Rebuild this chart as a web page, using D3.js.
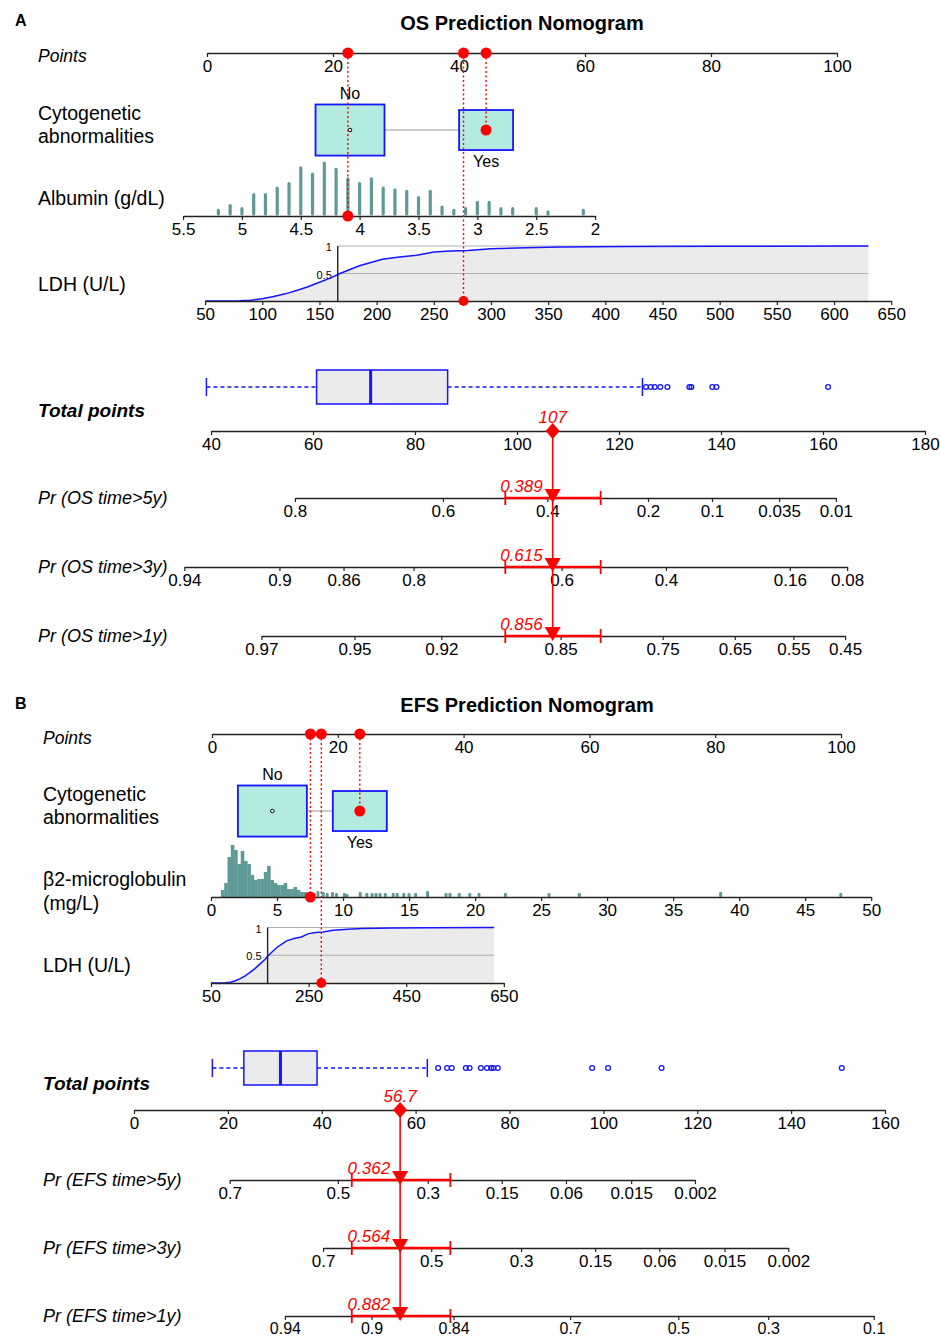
<!DOCTYPE html>
<html>
<head>
<meta charset="utf-8">
<script src="https://cdnjs.cloudflare.com/ajax/libs/d3/7.8.5/d3.min.js"></script>
<style>
body { margin: 0; background: #fff; }
</style>
</head>
<body>
<div id="chart"></div>
<script>
//----------------------------- DATA -------------------------------//
// shared
const ptsTicks = [0, 20, 40, 60, 80, 100];
const cytoLevels = ["No", "Yes"];
const cytoFreq = [0.62, 0.38];
const ldhEcdfX = [50, 80, 90, 100, 110, 120, 130, 140, 150, 160, 167, 175, 185, 195, 205, 220, 235, 250, 265, 280, 300, 330, 360, 420, 500, 630];
const ldhEcdfY = [0, 0.005, 0.015, 0.04, 0.08, 0.13, 0.19, 0.26, 0.34, 0.42, 0.49, 0.56, 0.64, 0.70, 0.76, 0.80, 0.83, 0.89, 0.91, 0.92, 0.95, 0.97, 0.98, 0.99, 0.995, 1.0];
const ldhMedian = 166;

// panel A : OS
const cytoPtsA = [22.7, 44.3];
const albTicks = [5.5, 5, 4.5, 4, 3.5, 3, 2.5, 2];
const albPtsEnds = [-3.8, 61.6];
const albVals = [5.2, 5.1, 5.0, 4.9, 4.8, 4.7, 4.6, 4.5, 4.4, 4.3, 4.2, 4.1, 4.0, 3.9, 3.8, 3.7, 3.6, 3.5, 3.4, 3.3, 3.2, 3.1, 3.0, 2.9, 2.8, 2.7, 2.5, 2.4, 2.1];
const albCounts = [3, 6, 4, 13, 13, 17, 20, 30, 26, 33, 29, 23, 20, 23, 17, 16, 15, 11, 15, 5, 3, 4, 8, 8, 4, 4, 4, 2, 3];
const ldhTicksA = [50, 100, 150, 200, 250, 300, 350, 400, 450, 500, 550, 600, 650];
const ldhPtsEndsA = [-0.3, 108.6];
const totTicksA = [40, 60, 80, 100, 120, 140, 160, 180];
const totBoxA = [39.1, 60.7, 71.3, 86.4, 124.6];
const totOutA = [125.3, 126.2, 127.0, 128.1, 129.5, 133.8, 134.2, 138.3, 139.1, 161.0];
const prNamesA = ["Pr (OS time>5y)", "Pr (OS time>3y)", "Pr (OS time>1y)"];
const prTicksA5 = [0.8, 0.6, 0.4, 0.2, 0.1, 0.035, 0.01];
const prTicksA3 = [0.94, 0.9, 0.86, 0.8, 0.6, 0.4, 0.16, 0.08];
const prTicksA1 = [0.97, 0.95, 0.92, 0.85, 0.75, 0.65, 0.55, 0.45];
const prValA = [0.389, 0.615, 0.856];
const totalA = 107;
const ciA = [97.7, 116.4];
const betaA = 0.02854;
const obsCytoA = "Yes", obsAlbA = 4.1, obsLdhA = 276;

// panel B : EFS
const cytoPtsB = [9.6, 23.5];
const b2Ticks = [0, 5, 10, 15, 20, 25, 30, 35, 40, 45, 50];
const b2PtsEnds = [-0.16, 104.8];
const b2Bins = [0.75, 1.0, 1.25, 1.5, 1.75, 2.0, 2.25, 2.5, 2.75, 3.0, 3.25, 3.5, 3.75, 4.0, 4.25, 4.5, 4.75, 5.0, 5.25, 5.5, 5.75, 6.0, 6.25, 6.5, 6.75, 7.0, 7.25];
const b2BinCounts = [7, 14, 40, 52, 47, 33, 46, 36, 33, 22, 17, 18, 18, 25, 31, 17, 14, 12, 12, 14, 8, 8, 10, 7, 5, 5, 4];
const b2Rare = [7.8, 8.1, 8.5, 8.8, 9.2, 9.5, 10.1, 10.3, 11.3, 11.8, 12.2, 12.5, 12.8, 13.2, 13.8, 14.1, 14.6, 15.0, 15.5, 16.4, 17.8, 18.1, 18.8, 19.6, 20.3, 22.3, 25.6, 27.9, 38.6, 47.7];
const b2RareCounts = [4, 6, 5, 4, 5, 4, 4, 3, 5, 4, 4, 4, 4, 4, 4, 4, 4, 4, 4, 6, 4, 4, 4, 4, 4, 4, 4, 4, 5, 4];
const ldhTicksB = [50, 250, 450, 650];
const ldhPtsEndsB = [-0.16, 46.4];
const totTicksB = [0, 20, 40, 60, 80, 100, 120, 140, 160];
const totBoxB = [16.7, 23.4, 31.2, 39.0, 62.5];
const totOutB = [64.8, 66.7, 67.7, 70.7, 71.5, 73.9, 75.2, 76.1, 76.6, 77.5, 97.6, 101.0, 112.4, 150.8];
const prNamesB = ["Pr (EFS time>5y)", "Pr (EFS time>3y)", "Pr (EFS time>1y)"];
const prTicksB5 = [0.7, 0.5, 0.3, 0.15, 0.06, 0.015, 0.002];
const prTicksB3 = [0.7, 0.5, 0.3, 0.15, 0.06, 0.015, 0.002];
const prTicksB1 = [0.94, 0.9, 0.84, 0.7, 0.5, 0.3, 0.1];
const prValB = [0.362, 0.564, 0.882];
const totalB = 56.7;
const ciB = [46.4, 67.4];
const betaB = 0.02883;
const obsCytoB = "Yes", obsB2 = 7.53, obsLdhB = 276;

//--------------------------- SETUP --------------------------------//
const FONT = '"Liberation Sans", Arial, Helvetica, sans-serif';
const RED = "#ff0000", BLUE = "#1515ff", TEAL = "#5f9a96", AQUA = "#b3ebe0", LIGHT = "#ebebeb";

const svg = d3.select("#chart")
    .append("svg")
    .attr("width", 941)
    .attr("height", 1339)
    .style("display", "block");

const gMain = svg.append("g");
const gGuide = svg.append("g");  // red guide lines over the marks
const gTop = svg.append("g");    // red markers on top

function txt(x, y, s, size, opt) {
    opt = opt || {};
    return gMain.append("text")
        .attr("x", x).attr("y", y)
        .attr("font-family", FONT)
        .attr("font-size", size)
        .attr("font-style", opt.italic ? "italic" : null)
        .attr("font-weight", opt.bold ? "bold" : null)
        .attr("text-anchor", opt.anchor || "start")
        .attr("dominant-baseline", "central")
        .attr("fill", opt.fill || "#000")
        .text(s);
}

function axis(scale, ticks, y, fmt, size) {
    const g = gMain.append("g")
        .attr("transform", "translate(0," + y + ")")
        .call(d3.axisBottom(scale)
            .tickValues(ticks)
            .tickSize(4)
            .tickSizeOuter(0)
            .tickPadding(3)
            .tickFormat(fmt || (d => d)));
    g.attr("font-size", size || 17).attr("font-family", FONT);
    g.select(".domain").attr("stroke", "#222").attr("stroke-width", 1.5);
    g.selectAll(".tick line").attr("stroke", "#222").attr("stroke-width", 1.2);
    g.selectAll(".tick text").attr("fill", "#000");
    return g;
}

function varScale(xs, ticks, ptsEnds) {
    return d3.scaleLinear()
        .domain([ticks[0], ticks[ticks.length - 1]])
        .range(ptsEnds.map(xs));
}

function redDot(x, y, r) {
    gTop.append("circle").attr("cx", x).attr("cy", y).attr("r", r || 5.5).attr("fill", RED);
}

function dotted(x, y1, y2) {
    gGuide.append("line")
        .attr("x1", x).attr("x2", x).attr("y1", y1).attr("y2", y2)
        .attr("stroke", RED).attr("stroke-width", 1.4)
        .attr("stroke-dasharray", "2,2.5");
}

//--------------------------- ROWS ---------------------------------//
function cytoRow(xs, pts, y, obs) {
    const cx = pts.map(xs);
    gMain.append("line")
        .attr("x1", cx[0]).attr("x2", cx[1]).attr("y1", y).attr("y2", y)
        .attr("stroke", "#bbb").attr("stroke-width", 1.5);
    gMain.append("g").selectAll("rect")
        .data(cytoLevels)
        .join("rect")
        .attr("x", (d, i) => cx[i] - 43.8 * Math.sqrt(cytoFreq[i]))
        .attr("y", (d, i) => y - 32.4 * Math.sqrt(cytoFreq[i]))
        .attr("width", (d, i) => 87.6 * Math.sqrt(cytoFreq[i]))
        .attr("height", (d, i) => 64.9 * Math.sqrt(cytoFreq[i]))
        .attr("fill", AQUA)
        .attr("stroke", BLUE)
        .attr("stroke-width", 1.8);
    cytoLevels.forEach((lv, i) => {
        const half = 32.4 * Math.sqrt(cytoFreq[i]);
        const ly = i === 0 ? y - half - 11 : y + half + 12;
        txt(cx[i], ly, lv, 16, {anchor: "middle"});
        if (lv !== obs) {
            gMain.append("circle").attr("cx", cx[i]).attr("cy", y).attr("r", 1.8)
                .attr("fill", "#fff").attr("stroke", "#000").attr("stroke-width", 1);
        }
    });
    const k = cytoLevels.indexOf(obs);
    redDot(cx[k], y, 5.5);
    return cx[k];
}

function ecdfRow(xl, y, h) {
    const yl = d3.scaleLinear().domain([0, 1]).range([y, y - h]);
    const data = d3.zip(ldhEcdfX, ldhEcdfY);
    const last = ldhEcdfX[ldhEcdfX.length - 1];
    gMain.append("path")
        .datum(data)
        .attr("fill", LIGHT)
        .attr("d", d3.area().x(d => xl(d[0])).y0(y).y1(d => yl(d[1])));
    [0.5, 1].forEach(v => {
        gMain.append("line")
            .attr("x1", xl(ldhMedian)).attr("x2", xl(last))
            .attr("y1", yl(v)).attr("y2", yl(v))
            .attr("stroke", "#b0b0b0").attr("stroke-width", 1.2);
        txt(xl(ldhMedian) - 6, yl(v) + 1, v, 11, {anchor: "end"});
    });
    gMain.append("path")
        .datum(data)
        .attr("fill", "none")
        .attr("stroke", BLUE)
        .attr("stroke-width", 1.5)
        .attr("d", d3.line().x(d => xl(d[0])).y(d => yl(d[1])));
    gMain.append("line")
        .attr("x1", xl(ldhMedian)).attr("x2", xl(ldhMedian))
        .attr("y1", y).attr("y2", yl(1))
        .attr("stroke", "#222").attr("stroke-width", 1.4);
}

function totalRow(xt, ticks, box, outs, yBox, yAxis, total) {
    const g = gMain.append("g");
    // whiskers
    [[box[0], box[1]], [box[3], box[4]]].forEach(w => {
        g.append("line")
            .attr("x1", xt(w[0])).attr("x2", xt(w[1])).attr("y1", yBox).attr("y2", yBox)
            .attr("stroke", BLUE).attr("stroke-width", 1.5).attr("stroke-dasharray", "4,3");
    });
    [box[0], box[4]].forEach(v => {
        g.append("line")
            .attr("x1", xt(v)).attr("x2", xt(v)).attr("y1", yBox - 9).attr("y2", yBox + 9)
            .attr("stroke", BLUE).attr("stroke-width", 1.5);
    });
    g.append("rect")
        .attr("x", xt(box[1])).attr("y", yBox - 17)
        .attr("width", xt(box[3]) - xt(box[1])).attr("height", 34)
        .attr("fill", LIGHT).attr("stroke", BLUE).attr("stroke-width", 1.5);
    g.append("line")
        .attr("x1", xt(box[2])).attr("x2", xt(box[2])).attr("y1", yBox - 17).attr("y2", yBox + 17)
        .attr("stroke", BLUE).attr("stroke-width", 3);
    g.selectAll("circle")
        .data(outs)
        .join("circle")
        .attr("cx", d => xt(d)).attr("cy", yBox).attr("r", 2.4)
        .attr("fill", "none").attr("stroke", BLUE).attr("stroke-width", 1.3);

    axis(xt, ticks, yAxis);

    const x = xt(total);
    gTop.append("path")
        .attr("d", "M" + x + "," + (yAxis - 8) + "L" + (x + 7) + "," + yAxis + "L" + x + "," + (yAxis + 8) + "L" + (x - 7) + "," + yAxis + "Z")
        .attr("fill", RED);
    gTop.append("text")
        .attr("x", x).attr("y", yAxis - 14)
        .attr("font-family", FONT).attr("font-size", 17).attr("font-style", "italic")
        .attr("text-anchor", "middle").attr("dominant-baseline", "central")
        .attr("fill", RED)
        .text(total);
}

function prRows(xt, names, tickSets, preds, total, beta, ci, ys, yTot, labelX, lastSize) {
    const cll = p => Math.log(-Math.log(p));
    const x = xt(total);
    gGuide.append("line")
        .attr("x1", x).attr("x2", x).attr("y1", yTot).attr("y2", ys[ys.length - 1])
        .attr("stroke", RED).attr("stroke-width", 1.6);
    tickSets.forEach((ticks, i) => {
        const c0 = cll(preds[i]);
        const toX = v => xt(total + (v - c0) / beta);
        const ends = [cll(ticks[0]), cll(ticks[ticks.length - 1])];
        const sc = d3.scaleLinear().domain(ends).range(ends.map(toX));
        const size = i === tickSets.length - 1 && lastSize ? lastSize : 17;
        axis(sc, ticks.map(cll), ys[i], (d, j) => ticks[j], size);
        txt(labelX, ys[i], names[i], 18, {italic: true});

        // confidence bar
        const x1 = xt(ci[0]), x2 = xt(ci[1]);
        gTop.append("line")
            .attr("x1", x1).attr("x2", x2).attr("y1", ys[i]).attr("y2", ys[i])
            .attr("stroke", RED).attr("stroke-width", 2.6);
        [x1, x2].forEach(xx => {
            gTop.append("line")
                .attr("x1", xx).attr("x2", xx).attr("y1", ys[i] - 7).attr("y2", ys[i] + 7)
                .attr("stroke", RED).attr("stroke-width", 1.8);
        });
        gTop.append("path")
            .attr("d", "M" + (x - 8) + "," + (ys[i] - 9) + "L" + (x + 8) + "," + (ys[i] - 9) + "L" + x + "," + (ys[i] + 5) + "Z")
            .attr("fill", RED);
        gTop.append("text")
            .attr("x", x - 10).attr("y", ys[i] - 12)
            .attr("font-family", FONT).attr("font-size", 17).attr("font-style", "italic")
            .attr("text-anchor", "end").attr("dominant-baseline", "central")
            .attr("fill", RED)
            .text(preds[i]);
    });
}

//------------------------- PANEL A --------------------------------//
txt(15, 20, "A", 16, {bold: true});
txt(522, 23, "OS Prediction Nomogram", 20, {bold: true, anchor: "middle"});

const xsA = d3.scaleLinear().domain([0, 100]).range([207, 837]);
axis(xsA, ptsTicks, 53);
txt(38, 56, "Points", 17.5, {italic: true});

txt(38, 113, "Cytogenetic", 19.5);
txt(38, 136, "abnormalities", 19.5);
const cytoXA = cytoRow(xsA, cytoPtsA, 130, obsCytoA);

txt(38, 198, "Albumin (g/dL)", 19.5);
const xAlb = varScale(xsA, albTicks, albPtsEnds);
const hAlb = d3.scaleLinear().domain([0, d3.max(albCounts)]).range([0, 52]);
gMain.append("g").selectAll("line")
    .data(d3.zip(albVals, albCounts))
    .join("line")
    .attr("x1", d => xAlb(d[0])).attr("x2", d => xAlb(d[0]))
    .attr("y1", 214).attr("y2", d => 215 - hAlb(d[1]))
    .attr("stroke", TEAL).attr("stroke-width", 3.2).attr("stroke-linecap", "round");
axis(xAlb, albTicks, 216);

txt(38, 284, "LDH (U/L)", 19.5);
const xLdhA = varScale(xsA, ldhTicksA, ldhPtsEndsA);
ecdfRow(xLdhA, 301, 55);
axis(xLdhA, ldhTicksA, 301);

// observed values
redDot(xsA(cytoPtsA[cytoLevels.indexOf(obsCytoA)]), 53);
dotted(cytoXA, 53, 130);
redDot(xAlb(obsAlbA), 216);
redDot(xAlb(obsAlbA), 53);
dotted(xAlb(obsAlbA), 53, 216);
redDot(xLdhA(obsLdhA), 301, 5);
redDot(xLdhA(obsLdhA), 53);
dotted(xLdhA(obsLdhA), 53, 301);

txt(38, 410, "Total points", 19, {bold: true, italic: true});
const xtA = d3.scaleLinear().domain([40, 180]).range([211, 925]);
totalRow(xtA, totTicksA, totBoxA, totOutA, 387, 431, totalA);
prRows(xtA, prNamesA, [prTicksA5, prTicksA3, prTicksA1], prValA, totalA, betaA, ciA, [498, 567, 636], 431, 38);

//------------------------- PANEL B --------------------------------//
txt(15, 703, "B", 16, {bold: true});
txt(527, 705, "EFS Prediction Nomogram", 20, {bold: true, anchor: "middle"});

const xsB = d3.scaleLinear().domain([0, 100]).range([212, 841]);
axis(xsB, ptsTicks, 734);
txt(43, 738, "Points", 17.5, {italic: true});

txt(43, 794, "Cytogenetic", 19.5);
txt(43, 817, "abnormalities", 19.5);
const cytoXB = cytoRow(xsB, cytoPtsB, 811, obsCytoB);

txt(43, 879, "\u03b22-microglobulin", 19.5);
txt(43, 903, "(mg/L)", 19.5);
const xB2 = varScale(xsB, b2Ticks, b2PtsEnds);
const hB2 = d3.scaleLinear().domain([0, d3.max(b2BinCounts)]).range([0, 52]);
gMain.append("g").selectAll("rect")
    .data(d3.zip(b2Bins, b2BinCounts))
    .join("rect")
    .attr("x", d => xB2(d[0]))
    .attr("width", d => xB2(d[0] + 0.25) - xB2(d[0]) + 0.3)
    .attr("y", d => 897 - hB2(d[1]))
    .attr("height", d => hB2(d[1]))
    .attr("fill", TEAL);
gMain.append("g").selectAll("rect")
    .data(d3.zip(b2Rare, b2RareCounts))
    .join("rect")
    .attr("x", d => xB2(d[0]) - 1.5)
    .attr("width", 3)
    .attr("y", d => 897 - hB2(d[1]))
    .attr("height", d => hB2(d[1]))
    .attr("rx", 1)
    .attr("fill", TEAL);
axis(xB2, b2Ticks, 897);

txt(43, 965, "LDH (U/L)", 19.5);
const xLdhB = varScale(xsB, ldhTicksB, ldhPtsEndsB);
ecdfRow(xLdhB, 983, 55.5);
axis(xLdhB, ldhTicksB, 983);

redDot(xsB(cytoPtsB[cytoLevels.indexOf(obsCytoB)]), 734);
dotted(cytoXB, 734, 811);
redDot(xB2(obsB2), 897);
redDot(xB2(obsB2), 734);
dotted(xB2(obsB2), 734, 897);
redDot(xLdhB(obsLdhB), 983, 5);
redDot(xLdhB(obsLdhB), 734);
dotted(xLdhB(obsLdhB), 734, 983);

txt(43, 1083, "Total points", 19, {bold: true, italic: true});
const xtB = d3.scaleLinear().domain([0, 160]).range([134, 885]);
totalRow(xtB, totTicksB, totBoxB, totOutB, 1068, 1110, totalB);
prRows(xtB, prNamesB, [prTicksB5, prTicksB3, prTicksB1], prValB, totalB, betaB, ciB, [1180, 1248, 1316], 1110, 43, 16);
</script>
